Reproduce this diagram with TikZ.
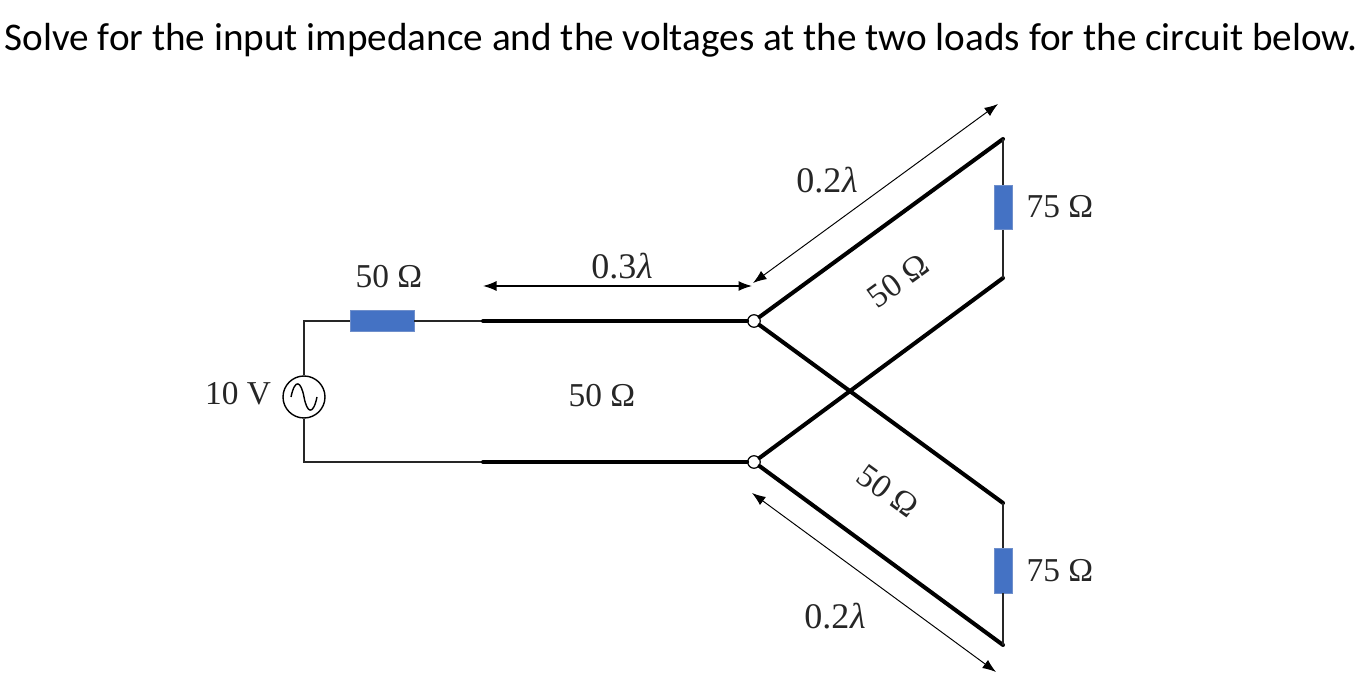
\documentclass[tikz,border=0pt]{standalone}
\usepackage{amsmath, amssymb}
\usepackage{fontspec}
\newfontfamily\titlefont{Carlito}
\newfontfamily\labfont{Liberation Serif}
\usetikzlibrary{arrows.meta}
\definecolor{resblue}{HTML}{4472C4}
\definecolor{resedge}{HTML}{6F8FCB}
\newcommand{\lam}{{\fontsize{20.5}{21}\selectfont\itshape\kern0.5pt λ}}
\tikzset{
	wire/.style={line width=0.8pt,black!85},
	line/.style={line width=2.3pt,line cap=round},
	dim/.style={line width=0.55pt,{Latex[length=0.27cm,width=0.2cm]}-{Latex[length=0.27cm,width=0.2cm]}},
	res/.style={draw=resedge,line width=0.4pt,fill=resblue,inner sep=0pt},
	junc/.style={circle,draw,fill=white,line width=0.7pt,minimum size=0.25cm,inner sep=0pt},
	lab/.style={inner sep=0pt,font=\labfont\fontsize{19}{21}\selectfont,black!85},
	labl/.style={lab,font=\labfont\fontsize{20.5}{22}\selectfont}
}
\begin{document}
\begin{tikzpicture}[x=0.02cm,y=-0.02cm]
	\useasboundingbox (0,0) rectangle (1366,692);
	\node[inner sep=0pt,font=\titlefont\fontsize{22.3}{25}\selectfont] (title) at (681,40) {Solve for the input impedance and the voltages at the two loads for the circuit below.};
	% source side
	\node[circle,draw,line width=0.8pt,minimum size=0.84cm,inner sep=0pt] (vs) at (304,397) {};
	\draw[line width=0.8pt] (291,397) .. controls (295,378) and (301,381) .. (304,397) .. controls (307,413) and (313,416) .. (317,397);
	\node[res,minimum width=1.28cm,minimum height=0.42cm] (rs) at (382,321) {};
	\coordinate (ta) at (483,321);
	\coordinate (tb) at (483,462);
	\node[junc] (ja) at (754,321) {};
	\node[junc] (jb) at (754,462) {};
	\draw[wire] (vs.north) |- (rs.west);
	\draw[wire] (rs.east) -- (ta);
	\draw[wire] (vs.south) |- (tb);
	\draw[line] (ta) -- (ja);
	\draw[line] (tb) -- (jb);
	% the two stubs
	\coordinate (ua) at (1003,139);
	\coordinate (ub) at (1003,278);
	\coordinate (da) at (1003,503);
	\coordinate (db) at (1003,645);
	\node[res,minimum width=0.36cm,minimum height=0.88cm] (ru) at (1003,207.5) {};
	\node[res,minimum width=0.36cm,minimum height=0.9cm] (rd) at (1003,570.5) {};
	\draw[line] (ja) -- (ua);
	\draw[line] (jb) -- (ub);
	\draw[line] (ja) -- (da);
	\draw[line] (jb) -- (db);
	\draw[wire] (ua) -- (ru);
	\draw[wire] (ru) -- (ub);
	\draw[wire] (da) -- (rd);
	\draw[wire] (rd) -- (db);
	% lengths
	\coordinate (la) at (483,286);
	\coordinate (lb) at (752,286);
	\coordinate (lc) at (753,283);
	\coordinate (ld) at (998,104);
	\coordinate (le) at (752,493);
	\coordinate (lf) at (996,672);
	\draw[dim,line width=0.8pt] (la) -- (lb);
	\draw[dim] (lc) -- (ld);
	\draw[dim] (le) -- (lf);
	% labels
	\node[lab] (lvs) at (238,394) {10 V};
	\node[lab] (lrs) at (389,277) {50 Ω};
	\node[lab] (lz) at (602,396) {50 Ω};
	\node[labl] (lt) at (622,266) {0.3\lam};
	\node[labl] (lu) at (827,180) {0.2\lam};
	\node[labl] (ll) at (835,616) {0.2\lam};
	\node[lab] (lru) at (1060,207) {75 Ω};
	\node[lab] (lrd) at (1060,571) {75 Ω};
	\node[lab,rotate=36] (lzu) at (898,281) {50 Ω};
	\node[lab,rotate=-36] (lzd) at (888,491) {50 Ω};
\end{tikzpicture}
\end{document}
